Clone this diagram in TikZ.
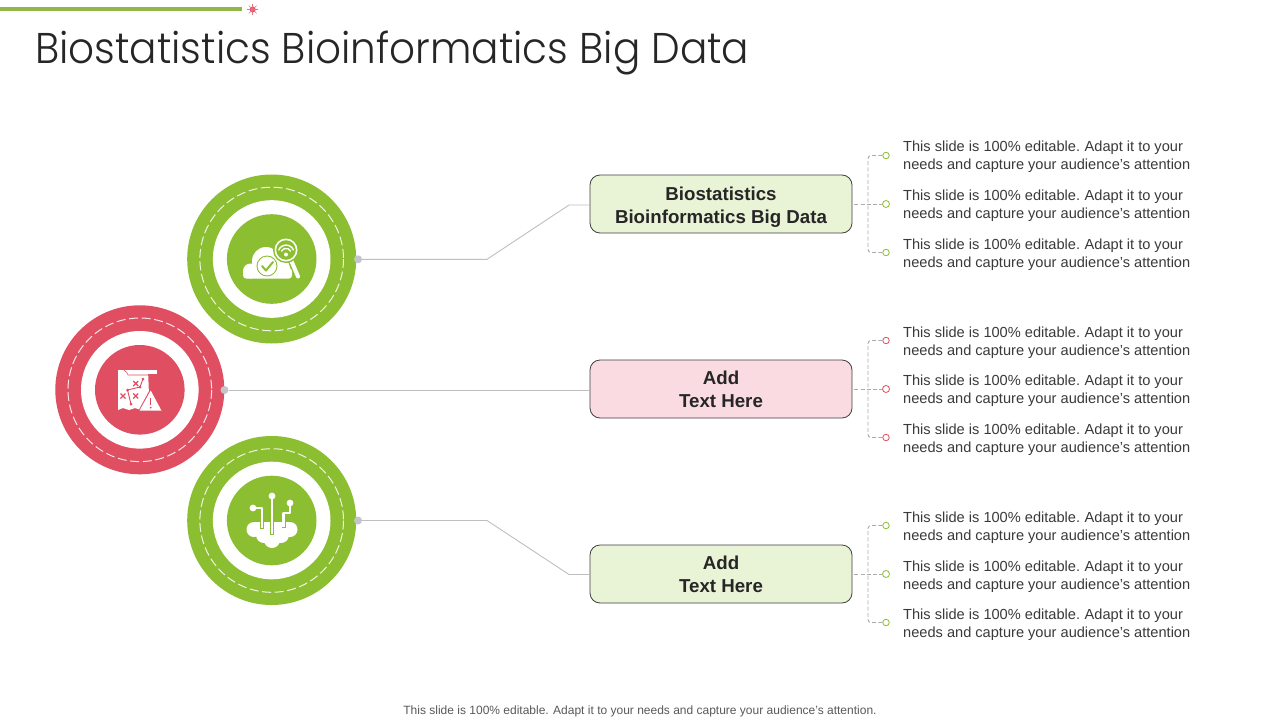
\documentclass[tikz,border=0pt]{standalone}
\usepackage{fontspec}
\setmainfont{Liberation Sans}
\newfontfamily\titlefont[FakeStretch=0.943]{Poppins Light}
\definecolor{gr}{HTML}{8CBE32}
\definecolor{rd}{HTML}{E04E62}
\definecolor{grl}{HTML}{E9F3D6}
\definecolor{rdl}{HTML}{F9DBE1}
\definecolor{txt}{HTML}{3A3A3A}
\definecolor{conn}{HTML}{BFBFBF}
\definecolor{topbar}{HTML}{90B748}
\definecolor{dotc}{HTML}{C4C4CC}
\tikzset{
  disc/.style={circle,inner sep=0pt,minimum size=169,fill=#1},
  dotnode/.style={circle,inner sep=0pt,minimum size=8,fill=dotc},
  leaf/.style={circle,inner sep=0pt,minimum size=6.5,draw=#1,fill=white,line width=.8},
  labelbox/.style={rectangle,rounded corners=10,minimum width=262,minimum height=58,draw=black!75,line width=.8,fill=#1,align=center,inner sep=0pt,font=\fontsize{18.7}{23}\selectfont\bfseries,text=black!85},
  desc/.style={anchor=west,align=left,inner sep=0pt,font=\fontsize{14.6}{18}\selectfont,text=txt},
  link/.style={draw=conn,line width=.9},
  tree/.style={draw=conn!90!black,line width=.9,dash pattern=on 4 off 2.2}
}
\newcommand{\ringset}[3]{% name, centre, colour
  \node[disc=#3] (#1) at (#2) {};
  \fill[white] (#2) circle[radius=58.8];
  \fill[#3] (#2) circle[radius=44.8];
  \draw[white!85!#3,line width=1,dash pattern=on 9 off 3.6] (#2) circle[radius=71.8];
}
\newcommand{\shiftline}[2]{\smash{\raisebox{#1}{#2}}}
\newcommand{\blurb}{This slide is 100\% editable.\hspace{4.6pt}Adapt it to your\\needs and capture your audience's attention}
\begin{document}
\begin{tikzpicture}[x=1pt,y=-1pt]
\useasboundingbox (0,0) rectangle (1280,720);
\fill[white] (0,0) rectangle (1280,720);
% top accent
\fill[topbar] (0,7) rectangle (242,11);
\fill[rd] (252.7,9.5) circle[radius=3];
\foreach \a in {0,45,...,315} \draw[rd!80!white,line width=.6] (252.7,9.5) -- ++(\a:5.5);
% title
\node[anchor=west,inner sep=0pt,font=\titlefont\fontsize{43}{50}\selectfont,text=black!85] (title) at (35,52.5) {Biostatistics Bioinformatics Big Data};
% rings
\ringset{ra}{271.7,259}{gr}
\ringset{rb}{139.8,389.8}{rd}
\ringset{rc}{271.7,520.5}{gr}
% boxes
\node[labelbox=grl] (ba) at (721,204) {\shiftline{-8pt}{Biostatistics}\\\shiftline{-8pt}{Bioinformatics Big Data}};
\node[labelbox=rdl] (bb) at (721,389) {\shiftline{-7pt}{Add}\\\shiftline{-7pt}{Text Here}};
\node[labelbox=grl] (bc) at (721,574) {\shiftline{-7pt}{Add}\\\shiftline{-7pt}{Text Here}};
% connectors
\node[dotnode] (da) at (358,259.3) {};
\node[dotnode] (db) at (224.5,390) {};
\node[dotnode] (dc) at (358,520.5) {};
\coordinate (a1) at (487,259.3); \coordinate (a2) at (569,205);
\coordinate (c1) at (487,520.5); \coordinate (c2) at (569,574.5);
\draw[link] (da) -- (a1) -- (a2) -- (a2 -| ba.west);
\draw[link] (db) -- (db -| bb.west);
\draw[link] (dc) -- (c1) -- (c2) -- (c2 -| bc.west);
% text trees
\foreach \n/\c/\y/\ta/\tb/\tc in {a/gr/204/-47/2/51,b/rd/389/-46.5/2.2/50.8,c/gr/574/-46/3/51}{
  \coordinate (j\n) at (868,\y);
  \node[leaf=\c] (l\n1) at (886,\y-48.5) {};
  \node[leaf=\c,minimum size=7] (l\n2) at (886,\y) {};
  \node[leaf=\c] (l\n3) at (886,\y+48.5) {};
  \draw[tree] (b\n.east) ++(2,0) -- (l\n2.west);
  \draw[tree,rounded corners=3] (l\n1.west) -| (j\n);
  \draw[tree,rounded corners=3] (l\n3.west) -| (j\n);
  \node[desc] (t\n1) at (903,\y+\ta) {\blurb};
  \node[desc] (t\n2) at (903,\y+\tb) {\blurb};
  \node[desc] (t\n3) at (903,\y+\tc) {\blurb};
}
% footer
\node[inner sep=0pt,font=\fontsize{12}{14}\selectfont,text=black!65] (foot) at (640,711) {This slide is 100\% editable. Adapt it to your needs and capture your audience's attention.};
% icon 1: cloud + check + magnifier
\fill[white] (250.5,271) circle[radius=7.5] (266,261) circle[radius=14] (280,268) circle[radius=10];
\fill[white,rounded corners=3] (243,278.5) rectangle (292,268);
\draw[gr,line width=.9] (267,266) circle[radius=10];
\draw[gr,line width=2,line cap=round,line join=round] (262,266) -- (266,270.5) -- (273,262);
\draw[gr,line width=6.5,line cap=round] (291,260) -- (298,276);
\draw[white,line width=4,line cap=round] (291,260) -- (298,276.5);
\fill[gr] (286,250) circle[radius=13];
\fill[white] (286,250) circle[radius=11.5];
\fill[gr] (286,250) circle[radius=9.8];
\draw[white,line width=1.4] (278.6,250.3) arc[start angle=200,end angle=340,radius=8];
\draw[white,line width=1.4] (281.3,251.3) arc[start angle=205,end angle=335,radius=5.2];
\fill[white] (286,254.5) circle[radius=2];
% icon 2: map + warning
\fill[white] (118,370) -- (148,370) -- (149,395) -- (147,410) -- (141,410) -- (135,408) -- (129,410) -- (123,408) -- (118,410) -- cycle;
\fill[white] (128,370) rectangle (157,373.5);
\draw[rd,line width=.6] (124,370) .. controls (127,371) and (127,374) .. (128,375) -- (149,375);
\draw[rd,line width=.9] (143,379) -- (140,387) -- (127.5,390) -- (131,404);
\fill[rd] (143,379) circle[radius=1.5] (140,387) circle[radius=1.5] (127.5,390) circle[radius=1.5] (131,404) circle[radius=1.5];
\foreach \p in {(135.7,383.5),(123,396),(135.7,396)}
  \draw[rd,line width=1.2] \p ++(-2.5,-2.5) -- ++(5,5) ++(-5,0) -- ++(5,-5);
\fill[rd] (150.7,388) -- (138,411.5) -- (163,411.5) -- cycle;
\fill[white] (150.7,390.5) -- (139.5,410.7) -- (161.5,410.7) -- cycle;
\draw[rd,line width=1.5] (150.7,397.5) -- (150.7,405);
\fill[rd] (150.7,407.6) circle[radius=1];
% icon 3: cloud with circuits
\fill[white] (254,529.5) circle[radius=7.5] (264,535) circle[radius=8] (272,540) circle[radius=8] (281,535) circle[radius=8] (290,529.5) circle[radius=7.5];
\fill[white] (253,522) rectangle (291,535);
\draw[gr,line width=4,line join=round] (253,508) -- (262,508) -- (262,528.5) (272,496) -- (272,534.5) (290,503) -- (290,513) -- (283.5,513) -- (283.5,527.5);
\draw[white,line width=2.2,line join=round] (253,508) -- (262,508) -- (262,527.5) (272,496) -- (272,533.5) (290,503) -- (290,513) -- (283.5,513) -- (283.5,526.5);
\fill[white] (253,508) circle[radius=3.4] (272,496) circle[radius=3.4] (290,503) circle[radius=3.4];
\end{tikzpicture}
\end{document}
